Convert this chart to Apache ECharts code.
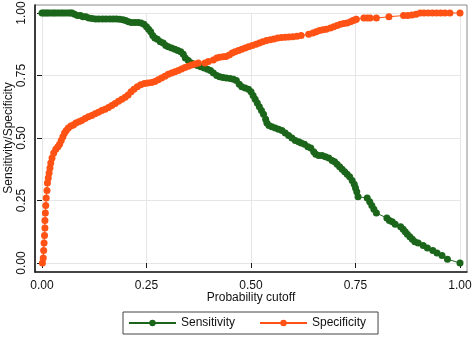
<!DOCTYPE html>
<html>
<head>
<meta charset="utf-8">
<script src="https://cdn.jsdelivr.net/npm/echarts@6/dist/echarts.min.js"></script>
<style>
html,body{margin:0;padding:0;background:#fff;}
#chart{width:474px;height:338px;}
</style>
</head>
<body>
<div id="chart"></div>
<script>
// Data
var xTicks = [0, 0.25, 0.5, 0.75, 1];
var yTicks = [0, 0.25, 0.5, 0.75, 1];

var cutoffSens = [0,0.004,0.009,0.013,0.018,0.024,0.029,0.034,0.040,0.046,0.051,0.057,0.063,0.068,0.072,
  0.078,0.085,0.092,0.098,0.105,0.112,0.120,0.128,0.136,0.145,0.153,0.162,0.170,0.178,0.186,0.194,0.200,
  0.207,0.214,0.222,0.230,0.237,0.244,0.250,0.255,0.260,0.265,0.270,0.276,0.283,0.290,0.296,0.302,0.310,
  0.318,0.325,0.332,0.338,0.343,0.350,0.357,0.364,0.372,0.380,0.388,0.396,0.403,0.410,0.418,0.425,0.433,
  0.441,0.450,0.458,0.465,0.472,0.478,0.486,0.494,0.500,0.505,0.510,0.515,0.520,0.525,0.530,0.535,0.538,
  0.543,0.550,0.558,0.566,0.574,0.582,0.590,0.598,0.606,0.614,0.620,0.628,0.636,0.643,0.650,0.655,0.662,
  0.670,0.678,0.686,0.694,0.700,0.706,0.712,0.718,0.724,0.730,0.736,0.742,0.747,0.750,0.753,0.756,
  0.778,0.784,0.789,0.794,0.800,0.825,0.831,0.838,0.845,0.858,0.864,0.869,0.874,0.880,0.886,0.892,0.900,
  0.912,0.922,0.935,0.945,0.957,0.970,1.000];
var sensitivity = [1,1,1,1,1,1,1,1,1,1,1,1,1,1,1,
  0.995,0.99,0.99,0.985,0.985,0.98,0.978,0.976,0.976,0.976,0.976,0.976,0.976,0.976,0.975,0.973,0.97,
  0.965,0.962,0.962,0.962,0.96,0.955,0.945,0.935,0.925,0.91,0.9,0.895,0.885,0.88,0.87,0.865,0.86,
  0.855,0.85,0.845,0.835,0.82,0.81,0.8,0.795,0.79,0.785,0.78,0.775,0.77,0.76,0.75,0.745,0.742,
  0.74,0.738,0.735,0.73,0.715,0.705,0.7,0.695,0.685,0.67,0.655,0.64,0.625,0.61,0.595,0.575,0.56,
  0.55,0.545,0.54,0.535,0.53,0.52,0.51,0.5,0.49,0.485,0.48,0.475,0.465,0.46,0.445,0.435,0.43,
  0.43,0.425,0.42,0.41,0.405,0.395,0.385,0.375,0.365,0.355,0.345,0.33,0.315,0.3,0.285,0.265,
  0.26,0.245,0.23,0.215,0.2,0.18,0.17,0.165,0.155,0.145,0.135,0.125,0.115,0.105,0.095,0.085,0.08,
  0.07,0.06,0.05,0.04,0.03,0.015,0];

var cutoffSpec = [0.001,0.003,0.004,0.005,0.006,0.007,0.007,0.008,0.009,0.010,0.012,0.013,0.015,0.017,0.019,
  0.021,0.024,0.028,0.033,0.038,0.042,0.046,0.050,0.054,0.058,0.063,0.069,0.075,0.081,0.088,0.095,0.103,
  0.111,0.119,0.127,0.135,0.143,0.151,0.159,0.167,0.175,0.183,0.191,0.199,0.206,0.213,0.220,0.228,0.236,
  0.245,0.253,0.262,0.270,0.278,0.286,0.294,0.302,0.310,0.318,0.326,0.334,0.342,0.350,0.358,0.366,0.374,
  0.390,0.398,0.410,0.418,0.425,0.433,0.440,0.448,0.455,0.462,0.470,0.478,0.486,0.494,0.503,0.512,0.520,
  0.528,0.537,0.546,0.555,0.564,0.573,0.582,0.591,0.600,0.610,0.620,0.638,0.648,0.656,0.664,0.672,0.680,
  0.690,0.698,0.706,0.714,0.722,0.730,0.738,0.744,0.748,0.752,0.770,0.778,0.785,0.800,0.830,
  0.865,0.875,0.885,0.895,0.905,0.914,0.924,0.934,0.944,0.954,0.964,0.976,1.000];
var specificity = [0,0.02,0.05,0.08,0.11,0.14,0.17,0.2,0.23,0.26,0.29,0.32,0.34,0.36,0.38,
  0.4,0.42,0.44,0.455,0.465,0.475,0.49,0.505,0.52,0.53,0.54,0.548,0.552,0.56,0.565,0.57,0.578,
  0.585,0.59,0.597,0.603,0.61,0.615,0.622,0.63,0.638,0.647,0.655,0.663,0.672,0.685,0.695,0.705,0.713,
  0.718,0.72,0.722,0.726,0.733,0.74,0.747,0.755,0.76,0.765,0.77,0.776,0.782,0.787,0.792,0.796,0.8,
  0.8,0.806,0.812,0.82,0.823,0.825,0.826,0.832,0.84,0.845,0.85,0.855,0.86,0.865,0.87,0.875,0.88,
  0.885,0.89,0.893,0.896,0.9,0.902,0.903,0.904,0.905,0.907,0.91,0.915,0.92,0.925,0.93,0.933,0.935,
  0.94,0.945,0.95,0.955,0.958,0.96,0.965,0.97,0.972,0.975,0.98,0.98,0.98,0.98,0.985,
  0.99,0.99,0.992,0.995,1,1,1,1,1,1,1,1,1];

var seriesNames = ['Sensitivity', 'Specificity'];
var seriesColors = ['#1b661b', '#ff5214'];

function pairs(xs, ys) { return xs.map(function (x, i) { return [x, ys[i]]; }); }

var chart = echarts.init(document.getElementById('chart'), null, {renderer: 'canvas'});
var fontFam = 'Liberation Sans, Arial, sans-serif';
chart.setOption({
  animation: false,
  backgroundColor: '#ffffff',
  grid: [
    {left: 42, right: 14, top: 13, bottom: 75, containLabel: false, outerBoundsMode: 'none'},
    {left: 35, right: 7, top: 5, bottom: 66, containLabel: false, outerBoundsMode: 'none',
     show: true, borderColor: '#8a8a8a', borderWidth: 1, backgroundColor: 'transparent', z: 0}
  ],
  xAxis: [{
    type: 'value', gridIndex: 0, min: xTicks[0], max: xTicks[xTicks.length - 1], interval: 0.25,
    offset: 9,
    name: 'Probability cutoff', nameLocation: 'middle', nameGap: 20, nameMoveOverlap: false,
    nameTextStyle: {color: '#111', fontSize: 12, fontFamily: fontFam},
    axisLine: {show: false},
    axisTick: {show: true, length: 5, lineStyle: {color: '#1a1a1a', width: 1}},
    axisLabel: {color: '#111', fontSize: 12, fontFamily: fontFam, margin: 8,
      formatter: function (v) { return v.toFixed(2); }},
    splitLine: {show: true, lineStyle: {color: '#e6e6e6', width: 1}}
  }, {
    type: 'value', gridIndex: 1, min: 0, max: 1, position: 'bottom',
    axisLine: {show: true, onZero: false, lineStyle: {color: '#1a1a1a', width: 1.6}},
    axisTick: {show: false}, axisLabel: {show: false}, splitLine: {show: false}
  }],
  yAxis: [{
    type: 'value', gridIndex: 0, min: yTicks[0], max: yTicks[yTicks.length - 1], interval: 0.25,
    offset: 7,
    name: 'Sensitivity/Specificity', nameLocation: 'middle', nameGap: 20, nameMoveOverlap: false,
    nameTextStyle: {color: '#111', fontSize: 12, fontFamily: fontFam},
    axisLine: {show: false},
    axisTick: {show: true, length: 5, lineStyle: {color: '#1a1a1a', width: 1}},
    axisLabel: {color: '#111', fontSize: 12, fontFamily: fontFam, margin: 7, rotate: 90,
      formatter: function (v) { return v.toFixed(2); }},
    splitLine: {show: true, lineStyle: {color: '#e6e6e6', width: 1}}
  }, {
    type: 'value', gridIndex: 1, min: 0, max: 1, position: 'left',
    axisLine: {show: true, onZero: false, lineStyle: {color: '#1a1a1a', width: 1.6}},
    axisTick: {show: false}, axisLabel: {show: false}, splitLine: {show: false}
  }],
  legend: {
    left: 123, top: 312,
    padding: [5, 12, 5, 5],
    itemWidth: 47, itemHeight: 8, itemGap: 24,
    borderColor: '#444', borderWidth: 1, borderRadius: 0,
    textStyle: {color: '#111', fontSize: 12, fontFamily: fontFam},
    data: seriesNames
  },
  series: [
    {name: seriesNames[0], type: 'line', xAxisIndex: 0, yAxisIndex: 0, data: pairs(cutoffSens, sensitivity),
     symbol: 'circle', symbolSize: 7, showAllSymbol: true, clip: false,
     itemStyle: {color: seriesColors[0]}, lineStyle: {color: seriesColors[0], width: 1}},
    {name: seriesNames[1], type: 'line', xAxisIndex: 0, yAxisIndex: 0, data: pairs(cutoffSpec, specificity),
     symbol: 'circle', symbolSize: 7, showAllSymbol: true, clip: false,
     itemStyle: {color: seriesColors[1]}, lineStyle: {color: seriesColors[1], width: 1}}
  ]
});
</script>
</body>
</html>
